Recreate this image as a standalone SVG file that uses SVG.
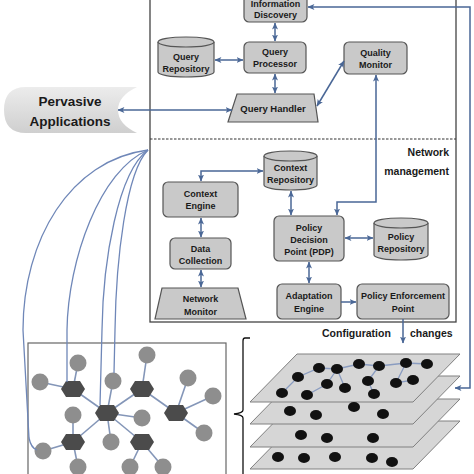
<svg xmlns="http://www.w3.org/2000/svg" width="474" height="474" viewBox="0 0 474 474">
<defs>
<marker id="ah" viewBox="0 0 8 7" refX="7.5" refY="3.5" markerWidth="7" markerHeight="6" markerUnits="userSpaceOnUse" orient="auto-start-reverse">
<path d="M0,0 L8,3.5 L0,7 L2,3.5 z" fill="#4a6796"/>
</marker>
<linearGradient id="pg" x1="0" y1="0" x2="0" y2="1">
<stop offset="0" stop-color="#ececec"/>
<stop offset="1" stop-color="#cfcfcf"/>
</linearGradient>
<style>
.box{fill:#c9c9c9;stroke:#555;stroke-width:1.2}
.t{font-family:"Liberation Sans",Arial,sans-serif;font-weight:bold;font-size:9px;fill:#1a1a1a;text-anchor:middle}
.c{fill:none;stroke:#4a6796;stroke-width:1.5}
.ne{stroke:#8496b8;stroke-width:1.6;fill:none}
.cv{stroke:#6f87b8;stroke-width:1.3;fill:none}
.gc{fill:#8e8e8e}
.hx{fill:#4b4b4b}
.ly{fill:#d6d6d6;stroke:#808080;stroke-width:1}
.dot{fill:#111}
</style>
</defs>
<rect width="474" height="474" fill="#fff"/>

<!-- outer box -->
<rect x="150" y="-5" width="306" height="327" fill="#fff" stroke="#444" stroke-width="1.3"/>
<line x1="150" y1="139" x2="456" y2="139" stroke="#333" stroke-width="1.2" stroke-dasharray="2.5,1.5"/>

<!-- Pervasive Applications -->
<g id="pervasive">
<path d="M137,87 L26,87 Q4,87 4,110 Q4,133 26,133 L137,133 Q118,124 118,110 Q118,96 137,87 Z" fill="url(#pg)"/>
<text class="t" x="70" y="106" style="font-size:13.5px">Pervasive</text>
<text class="t" x="70" y="126" style="font-size:13.5px">Applications</text>
</g>

<g id="info-discovery">
<rect class="box" x="244" y="-10" width="63" height="32" rx="5"/>
<text class="t" x="275.5" y="7">Information</text>
<text class="t" x="275.5" y="17.5">Discovery</text>
</g>

<g id="query-repository">
<path class="box" d="M158,42 L158,72 A28,5 0 0 0 214,72 L214,42"/>
<ellipse class="box" cx="186" cy="42" rx="28" ry="5"/>
<text class="t" x="186" y="60">Query</text>
<text class="t" x="186" y="72">Repository</text>
</g>

<g id="query-processor">
<rect class="box" x="244" y="42" width="62" height="31" rx="5"/>
<text class="t" x="275" y="55">Query</text>
<text class="t" x="275" y="67">Processor</text>
</g>

<g id="quality-monitor">
<rect class="box" x="344" y="42" width="63" height="32" rx="5"/>
<text class="t" x="375.5" y="56">Quality</text>
<text class="t" x="375.5" y="68">Monitor</text>
</g>

<g id="query-handler">
<path class="box" d="M237,94 L314,94 L318,122 L228,122 Z"/>
<text class="t" x="273" y="112" style="font-size:9.5px">Query Handler</text>
</g>

<g id="network-management-label">
<text class="t" x="449" y="156" style="font-size:10.5px;text-anchor:end">Network</text>
<text class="t" x="449" y="175" style="font-size:10.5px;text-anchor:end">management</text>
</g>

<g id="context-repository">
<path class="box" d="M264,156 L264,185 A26.5,5 0 0 0 317,185 L317,156"/>
<ellipse class="box" cx="290.5" cy="156" rx="26.5" ry="5"/>
<text class="t" x="290.5" y="171">Context</text>
<text class="t" x="290.5" y="183">Repository</text>
</g>

<g id="context-engine">
<rect class="box" x="163" y="182" width="75" height="35" rx="5"/>
<text class="t" x="200.5" y="197">Context</text>
<text class="t" x="200.5" y="209">Engine</text>
</g>

<g id="data-collection">
<rect class="box" x="170" y="238" width="61" height="31" rx="5"/>
<text class="t" x="200.5" y="252">Data</text>
<text class="t" x="200.5" y="264">Collection</text>
</g>

<g id="network-monitor">
<path class="box" d="M162,288 L238,288 L246,319 L155,319 Z"/>
<text class="t" x="200.5" y="302">Network</text>
<text class="t" x="200.5" y="315">Monitor</text>
</g>

<g id="pdp">
<rect class="box" x="274" y="216" width="70" height="45" rx="5"/>
<text class="t" x="309" y="231">Policy</text>
<text class="t" x="309" y="243">Decision</text>
<text class="t" x="309" y="255">Point (PDP)</text>
</g>

<g id="policy-repository">
<path class="box" d="M374,223 L374,255 A27,5 0 0 0 428,255 L428,223"/>
<ellipse class="box" cx="401" cy="223" rx="27" ry="5"/>
<text class="t" x="401" y="240">Policy</text>
<text class="t" x="401" y="252">Repository</text>
</g>

<g id="adaptation-engine">
<rect class="box" x="277" y="284" width="64" height="35" rx="5"/>
<text class="t" x="309" y="299">Adaptation</text>
<text class="t" x="309" y="312">Engine</text>
</g>

<g id="pep">
<rect class="box" x="357" y="284" width="92" height="35" rx="5"/>
<text class="t" x="403" y="299">Policy Enforcement</text>
<text class="t" x="403" y="312">Point</text>
</g>

<g id="config-label">
<text class="t" x="322" y="337" style="font-size:10.5px;text-anchor:start">Configuration</text>
<text class="t" x="410" y="337" style="font-size:10.5px;text-anchor:start">changes</text>
</g>

<!-- connectors -->
<g id="connectors">
<path class="c" d="M275,23 L275,41" marker-start="url(#ah)" marker-end="url(#ah)"/>
<path class="c" d="M215,60 L243,60" marker-start="url(#ah)" marker-end="url(#ah)"/>
<path class="c" d="M275,74 L275,93" marker-start="url(#ah)" marker-end="url(#ah)"/>
<path class="c" d="M317,106 L344,61" marker-start="url(#ah)" marker-end="url(#ah)"/>
<path class="c" d="M118,110 L232,110" marker-start="url(#ah)" marker-end="url(#ah)"/>
<path class="c" d="M308,7 L470,7 L470,388 L455,388" marker-start="url(#ah)" marker-end="url(#ah)"/>
<path class="c" d="M376,75 L376,202 L337,202 L337,215" marker-start="url(#ah)" marker-end="url(#ah)"/>
<path class="c" d="M201,181 L201,171 L263,171" marker-start="url(#ah)" marker-end="url(#ah)"/>
<path class="c" d="M201,218 L201,237" marker-start="url(#ah)" marker-end="url(#ah)"/>
<path class="c" d="M201,270 L201,287" marker-start="url(#ah)" marker-end="url(#ah)"/>
<path class="c" d="M291,191 L291,215" marker-start="url(#ah)" marker-end="url(#ah)"/>
<path class="c" d="M345,238 L373,238" marker-start="url(#ah)" marker-end="url(#ah)"/>
<path class="c" d="M309,262 L309,283" marker-start="url(#ah)" marker-end="url(#ah)"/>
<path class="c" d="M341,302 L356,302" marker-end="url(#ah)"/>
<path class="c" d="M403,319 L403,343" marker-end="url(#ah)"/>
</g>

<!-- layers -->
<g id="layers">
<path class="ly" d="M297,421 L460,421 L413,469 L250,469 Z"/>
<path class="ly" d="M297,399 L460,399 L413,447 L250,447 Z"/>
<path class="ly" d="M297,376 L460,376 L413,424 L250,424 Z"/>
<path class="ly" d="M297,354 L460,354 L413,402 L250,402 Z"/>
<g stroke="#8a9cc0" stroke-width="1.3" fill="none">
<polyline points="282,393 298,377 319,368 337,369 359,364 379,366 406,363 427,364"/>
<polyline points="307,395 327,384 337,369 345,388"/>
<polyline points="379,366 368,381 374,394"/>
<polyline points="406,363 396,383 413,380"/>
</g>
<g class="dot">
<ellipse cx="282" cy="393" rx="6" ry="5"/><ellipse cx="307" cy="395" rx="6" ry="5"/>
<ellipse cx="298" cy="377" rx="6" ry="5"/><ellipse cx="319" cy="368" rx="6" ry="5"/>
<ellipse cx="337" cy="369" rx="6" ry="5"/><ellipse cx="327" cy="384" rx="6" ry="5"/>
<ellipse cx="345" cy="388" rx="6" ry="5"/><ellipse cx="359" cy="364" rx="6" ry="5"/>
<ellipse cx="379" cy="366" rx="6" ry="5"/><ellipse cx="368" cy="381" rx="6" ry="5"/>
<ellipse cx="374" cy="394" rx="6" ry="5"/><ellipse cx="406" cy="363" rx="6" ry="5"/>
<ellipse cx="427" cy="364" rx="6" ry="5"/><ellipse cx="396" cy="383" rx="6" ry="5"/>
<ellipse cx="413" cy="380" rx="6" ry="5"/>
<ellipse cx="290" cy="411" rx="6" ry="5"/><ellipse cx="316" cy="415" rx="6" ry="5"/>
<ellipse cx="354" cy="407" rx="6" ry="5"/><ellipse cx="383" cy="414" rx="6" ry="5"/>
<ellipse cx="301" cy="435" rx="6" ry="5"/><ellipse cx="327" cy="438" rx="6" ry="5"/>
<ellipse cx="373" cy="438" rx="6" ry="5"/>
<ellipse cx="278" cy="457" rx="6" ry="5"/><ellipse cx="304" cy="458" rx="6" ry="5"/>
<ellipse cx="335" cy="457" rx="6" ry="5"/><ellipse cx="372" cy="458" rx="6" ry="5"/>
<ellipse cx="392" cy="462" rx="6" ry="5"/>
</g>
</g>

<!-- brace -->
<path id="brace" d="M250,338 L245,338 Q243,338 243,341 L243,410 Q243,413 234,414 Q243,415 243,418 L243,476" fill="none" stroke="#111" stroke-width="1.3"/>

<!-- network graph -->
<g id="network-graph">
<rect x="28" y="343" width="198" height="140" fill="#fff" stroke="#666" stroke-width="1.2"/>
<g class="ne">
<line x1="73" y1="389" x2="40" y2="382"/><line x1="73" y1="389" x2="78" y2="363"/><line x1="73" y1="389" x2="107" y2="413"/>
<line x1="142" y1="389" x2="147" y2="355"/><line x1="142" y1="389" x2="107" y2="413"/><line x1="142" y1="389" x2="176" y2="413"/>
<line x1="107" y1="413" x2="113" y2="381"/><line x1="107" y1="413" x2="142" y2="418"/><line x1="107" y1="413" x2="73" y2="442"/>
<line x1="107" y1="413" x2="111" y2="442"/><line x1="107" y1="413" x2="142" y2="442"/>
<line x1="176" y1="413" x2="188" y2="378"/><line x1="176" y1="413" x2="213" y2="396"/><line x1="176" y1="413" x2="204" y2="433"/>
<line x1="73" y1="442" x2="73" y2="415"/><line x1="73" y1="442" x2="43" y2="451"/><line x1="73" y1="442" x2="78" y2="467"/>
<line x1="142" y1="442" x2="130" y2="467"/><line x1="142" y1="442" x2="163" y2="467"/>
</g>
<g class="gc">
<circle cx="78" cy="363" r="8.5"/><circle cx="40" cy="382" r="8.5"/><circle cx="113" cy="381" r="8.5"/>
<circle cx="147" cy="355" r="8.5"/><circle cx="188" cy="378" r="8.5"/><circle cx="213" cy="396" r="8.5"/>
<circle cx="73" cy="415" r="8.5"/><circle cx="142" cy="418" r="8.5"/><circle cx="204" cy="433" r="8.5"/>
<circle cx="111" cy="442" r="8.5"/><circle cx="43" cy="451" r="8.5"/><circle cx="78" cy="467" r="8.5"/>
<circle cx="130" cy="467" r="8.5"/><circle cx="163" cy="467" r="8.5"/>
</g>
<g class="hx">
<path d="M66,381 L80,381 L85,389 L80,397 L66,397 L61,389 Z"/>
<path d="M135,381 L149,381 L154,389 L149,397 L135,397 L130,389 Z"/>
<path d="M100,405 L114,405 L119,413 L114,421 L100,421 L95,413 Z"/>
<path d="M169,405 L183,405 L188,413 L183,421 L169,421 L164,413 Z"/>
<path d="M66,434 L80,434 L85,442 L80,450 L66,450 L61,442 Z"/>
<path d="M135,434 L149,434 L154,442 L149,450 L135,450 L130,442 Z"/>
</g>
</g>

<!-- curves from network management to graph -->
<g id="monitor-links">
<path class="cv" d="M148,150 C70,160 23,240 23,330 L29,438 Q31,448 37,450"/>
<path class="cv" d="M148,150 C100,170 68,260 67,330 L67,382"/>
<path class="cv" d="M148,150 C118,172 103,260 102,330 L100,405"/>
<path class="cv" d="M148,150 C126,172 116,260 115,330 L114,373"/>
</g>
</svg>
